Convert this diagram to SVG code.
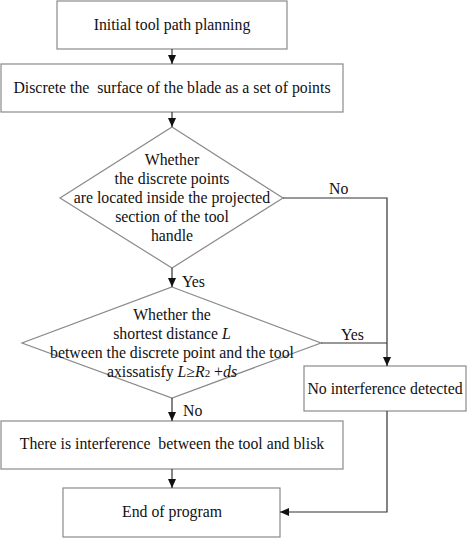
<svg xmlns="http://www.w3.org/2000/svg" width="474" height="539" viewBox="0 0 474 539">
<defs>
<marker id="ah" markerWidth="10" markerHeight="10" refX="9" refY="5" orient="auto" markerUnits="userSpaceOnUse">
<path d="M0,1 L9,5 L0,9 Z" fill="#111"/>
</marker>
<style>
.box{fill:#fff;stroke:#8a8a8a;stroke-width:1.2}
.t{font-family:"Liberation Serif","Times New Roman",serif;font-size:15.8px;fill:#111;text-anchor:middle}
.l{font-family:"Liberation Serif","Times New Roman",serif;font-size:15.8px;fill:#111}
.c{fill:none;stroke:#333;stroke-width:1.2}
</style>
</defs>
<rect width="474" height="539" fill="#fff"/>
<g id="n1"><rect class="box" x="57" y="1" width="230" height="48"/><text class="t" x="172" y="30">Initial tool path planning</text></g>
<g id="n2"><rect class="box" x="1" y="64" width="342" height="48"/><text class="t" x="172" y="93" xml:space="preserve">Discrete the  surface of the blade as a set of points</text></g>
<g id="n3"><polygon class="box" points="172,127 283,198 172,268 60,198"/>
<text class="t" x="172" y="165">Whether</text>
<text class="t" x="172" y="184">the discrete points</text>
<text class="t" x="172" y="203">are located inside the projected</text>
<text class="t" x="172" y="222">section of the tool</text>
<text class="t" x="172" y="241">handle</text></g>
<g id="n4"><polygon class="box" points="172,287 321,343 172,398 22,343"/>
<text class="t" x="172" y="320">Whether the</text>
<text class="t" x="172" y="339">shortest distance <tspan font-style="italic">L</tspan></text>
<text class="t" x="172" y="358">between the discrete point and the tool</text>
<text class="t" x="172" y="377">axissatisfy <tspan font-style="italic">L</tspan>≥<tspan font-style="italic">R</tspan><tspan font-size="11">2</tspan> +<tspan font-style="italic">ds</tspan></text></g>
<g id="n5"><rect class="box" x="304" y="366" width="162" height="45"/><text class="t" x="385" y="394">No interference detected</text></g>
<g id="n6"><rect class="box" x="1" y="421" width="342" height="48"/><text class="t" x="172" y="449" xml:space="preserve">There is interference  between the tool and blisk</text></g>
<g id="n7"><rect class="box" x="63" y="488" width="217" height="49"/><text class="t" x="172" y="517">End of program</text></g>
<g id="connectors">
<line class="c" x1="172" y1="49" x2="172" y2="64" marker-end="url(#ah)"/>
<line class="c" x1="172" y1="112" x2="172" y2="127" marker-end="url(#ah)"/>
<line class="c" x1="172" y1="268" x2="172" y2="287" marker-end="url(#ah)"/>
<polyline class="c" points="283,198 387,198 387,366" marker-end="url(#ah)"/>
<line class="c" x1="321" y1="343" x2="387" y2="343"/>
<line class="c" x1="172" y1="398" x2="172" y2="421" marker-end="url(#ah)"/>
<line class="c" x1="172" y1="469" x2="172" y2="488" marker-end="url(#ah)"/>
<polyline class="c" points="387,411 387,512 280,512" marker-end="url(#ah)"/>
<text class="l" x="329" y="194">No</text>
<text class="l" x="182" y="287">Yes</text>
<text class="l" x="341" y="340">Yes</text>
<text class="l" x="183" y="416">No</text>
</g>
</svg>
